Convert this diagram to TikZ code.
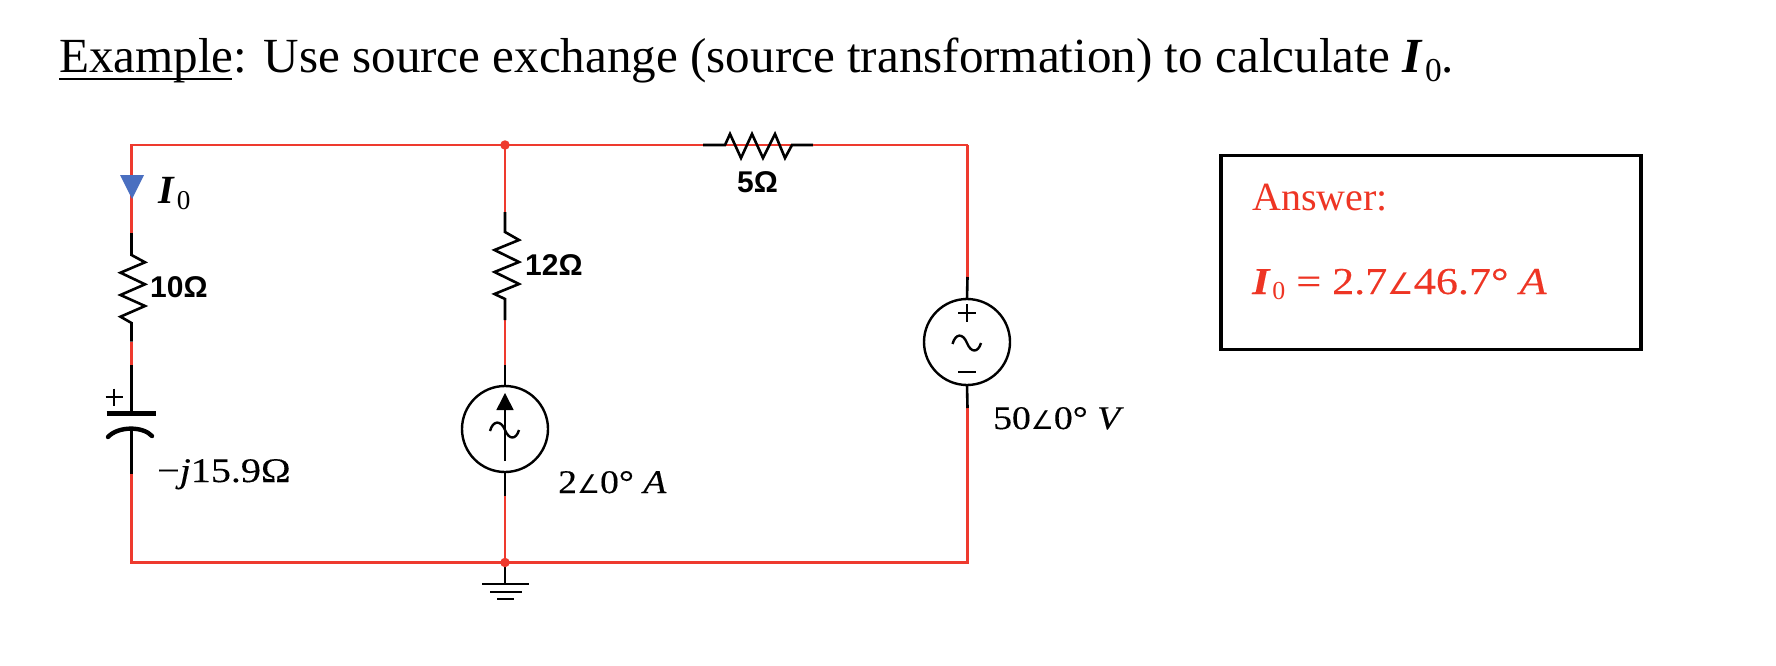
\documentclass[tikz,border=0pt]{standalone}
\usepackage{fontspec}
\setmainfont{Liberation Serif}
\newfontfamily\labfont{Liberation Sans}[Scale=1]
\newfontfamily\cam[FakeStretch=1.14,FakeBold=0.25]{Liberation Serif}
\newfontfamily\camw[FakeStretch=1.16,FakeBold=0.25]{Liberation Serif}
\newfontfamily\angfont{DejaVu Sans}
\definecolor{wirered}{HTML}{EE3A2E}
\definecolor{ansred}{HTML}{EE3524}
\definecolor{arrowblue}{HTML}{4A6FC0}
\newcommand{\ang}{{\angfont\fontsize{0.78em}{1em}\selectfont ∠}}
\newcommand{\Izero}[2]{{\bfseries\itshape I}\kern #1\raisebox{-#2}{{\normalfont\fontsize{0.68em}{1em}\selectfont 0}}}
\tikzset{
  wire/.style={draw=wirered,line width=2.7pt},
  lead/.style={draw=black,line width=2.6pt,line join=miter},
  sym/.style={draw=black,line width=2.4pt},
  plate/.style={draw=black,line width=4.4pt},
  srcc/.style={circle,draw=black,line width=2.4pt,minimum size=86pt,inner sep=0pt,outer sep=0pt},
  junction/.style={circle,fill=wirered,inner sep=0pt,minimum size=9.5pt},
  rlabel/.style={anchor=base west,inner sep=0pt,font=\labfont\bfseries\fontsize{30}{32}\selectfont},
  vlabel/.style={anchor=base west,inner sep=0pt,font=\cam\fontsize{33}{36}\selectfont},
  title/.style={anchor=base west,inner sep=0pt,font=\fontsize{49.1}{52}\selectfont},
  anslabel/.style={anchor=base west,inner sep=0pt,text=ansred,font=\camw\fontsize{38}{42}\selectfont},
}
\begin{document}
\begin{tikzpicture}[x=1pt,y=-1pt]
\path[use as bounding box,fill=white] (0,0) rectangle (1776,666);
% corners and junctions
\coordinate (TL) at (131.5,145);
\coordinate (TR) at (967.5,145);
\coordinate (BL) at (131.5,562.5);
\coordinate (BR) at (967.5,562.5);
\coordinate (TM) at (505,145);
\coordinate (BM) at (505,562.5);
% title
\node[title] (ttl) at (59,72.5) {Example: Use source exchange (source transformation) to calculate \Izero{4pt}{9pt}.};
\coordinate (ul1) at (59,79);
\coordinate (ul2) at (232,79);
\draw[line width=2.6pt] (ul1) -- (ul2);
% red wires
\draw[wire] (131.5,233) -- (TL) -- (TR) ;
\draw[wire] (TR) -- (967.5,277);
\draw[wire] (967.5,408) -- (BR) -- (BL) -- (131.5,474);
\draw[wire] (131.5,341.5) -- (131.5,365);
\draw[wire] (TM) -- (505,212);
\draw[wire] (505,320) -- (505,365);
\draw[wire] (505,496) -- (BM);
% left resistor
\draw[lead] (131.5,233) -- (131.5,255) -- (145,262.3) -- (120.5,272.7) -- (145,284.3) -- (120.5,295) -- (145,306) -- (120.5,316.7) -- (131.5,323) -- (131.5,341.5);
\node[rlabel] (r10) at (150,297) {10Ω};
% current arrow
\fill[arrowblue] (120,175) -- (144,175) -- (132,199) -- cycle;
\node[anchor=base west,inner sep=0pt,font=\fontsize{40}{44}\selectfont] (i0) at (158,203) {\Izero{3pt}{6pt}};
% capacitor
\draw[lead] (131.5,365) -- (131.5,413);
\draw[plate] (106.5,413.5) -- (156,413.5);
\draw[lead] (131.5,429) -- (131.5,474);
\draw[plate,line cap=round] (108,437) .. controls (118,426) and (143,426) .. (152,436);
\draw[sym] (105.5,397) -- (123,397);
\draw[sym] (114.2,388.5) -- (114.2,405.5);
\node[anchor=base west,inner sep=0pt,font=\camw\fontsize{34.5}{38}\selectfont] (vc) at (157,482) {−\textit{j}15.9Ω};
% middle branch
\draw[lead] (505,212) -- (505,232) -- (519,240) -- (494.5,250) -- (519,262) -- (494.5,272) -- (519,284) -- (494.5,294) -- (505,299) -- (505,320);
\node[rlabel] (r12) at (525,275) {12Ω};
\node[srcc] (cs) at (505,429) {};
\draw[lead] (505,365) -- (cs.north);
\draw[lead] (cs.south) -- (505,496);
\draw[sym] (505,461) -- (505,405);
\fill (505,393) -- (513.7,410) -- (496.3,410) -- cycle;
\draw[sym] (490,431) .. controls (493,420) and (501,420) .. (505,430) .. controls (509,440) and (516,440) .. (519,430);
\node[vlabel] (vi) at (558,493) {2\ang 0° \textit{A}};
% ground
\coordinate (G) at (505,584);
\draw[lead] (BM) -- (G);
\draw[lead] (482,584) -- (529,584);
\draw[lead] (490,592) -- (522,592);
\draw[lead] (497,599) -- (514,599);
\node[junction] (jt) at (TM) {};
\node[junction] (jb) at (BM) {};
% top resistor
\draw[lead] (703,145) -- (725,145) -- (730,134) -- (741,158) -- (752,134) -- (763,158) -- (775,134) -- (785,158) -- (792,145) -- (813,145);
\draw[wire] (TM) -- (703,145);
\draw[wire] (813,145) -- (TR);
\node[rlabel] (r5) at (737,192) {5Ω};
% right source
\node[srcc] (vs) at (967,342) {};
\draw[lead] (967.5,277) -- (vs.north);
\draw[lead] (vs.south) -- (967.5,408);
\draw[sym] (958,313) -- (976,313);
\draw[sym] (967,304) -- (967,322);
\draw[sym] (958,372) -- (976,372);
\draw[sym] (952.5,344) .. controls (955.5,333) and (963,333) .. (967,343) .. controls (971,353) and (978,353) .. (981,343);
\node[vlabel] (vv) at (993,429) {50\ang 0° \textit{V}};
% answer box
\node[draw=black,line width=3.2pt,minimum width=420pt,minimum height=194pt,inner sep=0pt,outer sep=0pt,anchor=north west] (box) at (1221,155.5) {};
\node[anchor=base west,inner sep=0pt,text=ansred,font=\fontsize{40}{44}\selectfont] (ans) at (1252,210) {Answer:};
\node[anslabel] (res) at (1252,294) {\Izero{3pt}{5pt} = 2.7\ang 46.7° \textit{A}};
\end{tikzpicture}
\end{document}
